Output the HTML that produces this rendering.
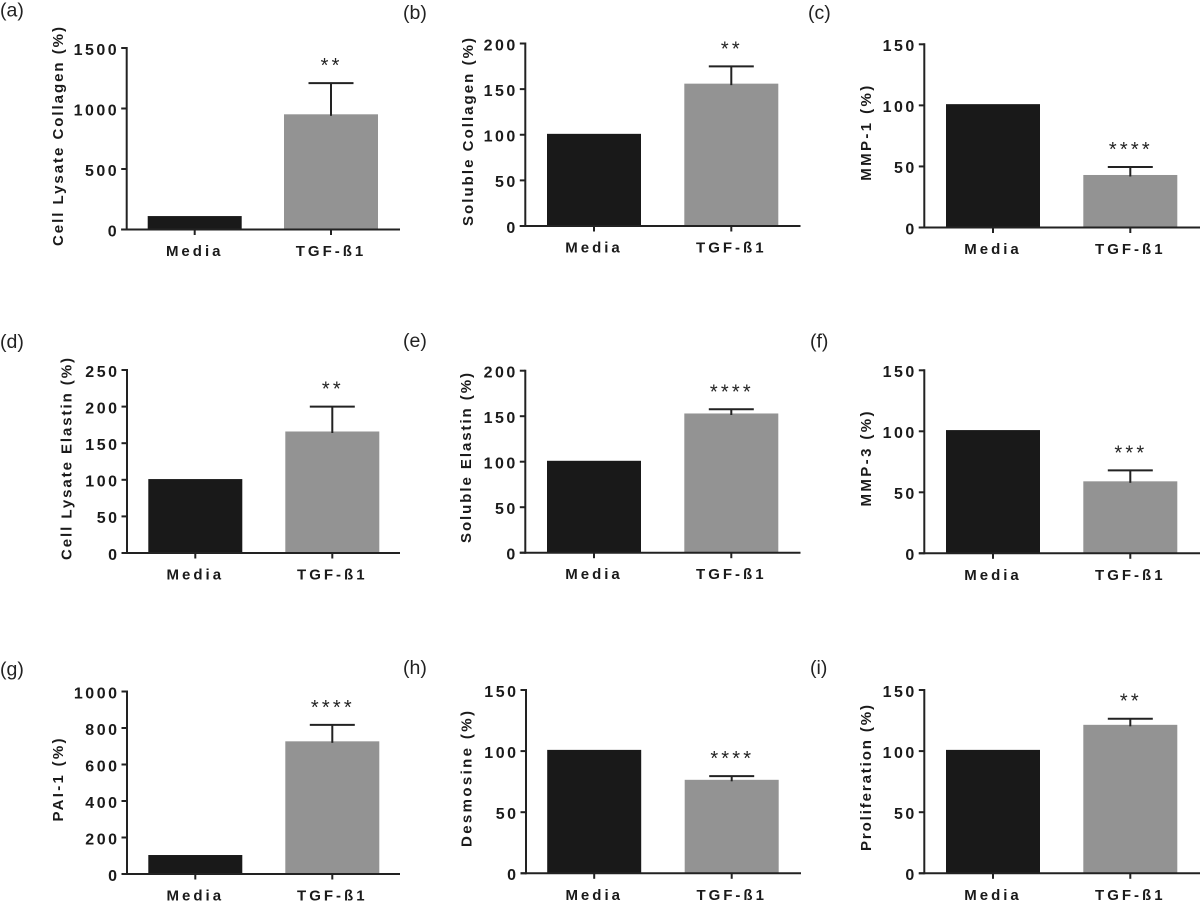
<!DOCTYPE html>
<html lang="en">
<head>
<meta charset="utf-8">
<title>TGF-ß1 bar chart panels</title>
<style>
html,body{margin:0;padding:0;background:#fff;}
#figure{display:block;width:1200px;height:901px;filter:blur(0.3px);}
text{font-family:"Liberation Sans",sans-serif;fill:#1a1a1a;}
.tick{font-size:16px;font-weight:700;letter-spacing:2.5px;text-anchor:end;}
.cat{font-size:15px;font-weight:700;letter-spacing:3px;text-anchor:middle;}
.ytitle{font-size:15px;font-weight:700;text-anchor:middle;}
.stars{font-size:20px;letter-spacing:3.2px;text-anchor:middle;fill:#222;}
.letter{font-size:19.5px;fill:#222;}
</style>
</head>
<body>
<svg id="figure" xmlns="http://www.w3.org/2000/svg" width="1200" height="901" viewBox="0 0 1200 901"></svg>
<script>
// Data
const categories = ["Media", "TGF-ß1"];
const panelLetters = ["(a)", "(b)", "(c)", "(d)", "(e)", "(f)", "(g)", "(h)", "(i)"];
const yTitles = ["Cell Lysate Collagen (%)", "Soluble Collagen (%)", "MMP-1 (%)", "Cell Lysate Elastin (%)", "Soluble Elastin (%)", "MMP-3 (%)", "PAI-1 (%)", "Desmosine (%)", "Proliferation (%)"];
const mediaValues = [111, 101, 101, 101, 101, 101, 104, 101, 101];
const tgfValues = [952, 156, 43, 166, 153, 59, 727, 76.5, 121.5];
const errorTops = [1210, 175, 49.5, 200, 157.6, 68, 817, 79.5, 126.5];
const significance = ["**", "**", "****", "**", "****", "***", "****", "****", "**"];
const tickLabels = [
  [0, 500, 1000, 1500],
  [0, 50, 100, 150, 200],
  [0, 50, 100, 150],
  [0, 50, 100, 150, 200, 250],
  [0, 50, 100, 150, 200],
  [0, 50, 100, 150],
  [0, 200, 400, 600, 800, 1000],
  [0, 50, 100, 150],
  [0, 50, 100, 150]
];

// Layout of each panel (separate from the data)
const frames = [
  {x:126.7, top:48,    base:229.5, right:400,  c0:194.7, c1:331,    lx:0,   ly:16.5, tx:63,  ty:136.5, tl:219},
  {x:525.3, top:43.5,  base:226,   right:800.5,c0:594,   c1:731.3,  lx:403, ly:19,   tx:473, ty:132,   tl:188},
  {x:924.3, top:44.3,  base:227.5, right:1200, c0:993,   c1:1130.3, lx:808, ly:19,   tx:871, ty:133.3, tl:95},
  {x:127,   top:370,   base:553,   right:400,  c0:195.3, c1:332.3,  lx:0,   ly:348,  tx:71.5,ty:459,   tl:202},
  {x:525.3, top:370.7, base:552.7, right:800.5,c0:594,   c1:731.3,  lx:403, ly:347,  tx:471, ty:458,   tl:170},
  {x:924.3, top:370.3, base:553.3, right:1200, c0:993,   c1:1130.3, lx:810, ly:347.5,tx:871, ty:459,   tl:95},
  {x:127,   top:691.5, base:874,   right:400,  c0:195.3, c1:332.3,  lx:0,   ly:675.5,tx:63,  ty:780,   tl:83},
  {x:526,   top:690,   base:873.3, right:801,  c0:594.2, c1:731.7,  lx:403, ly:674,  tx:471.7,ty:779,  tl:136},
  {x:924.3, top:690,   base:873.3, right:1200, c0:993,   c1:1130.3, lx:810, ly:674,  tx:871, ty:778,   tl:146}
];
const INK = "#222";
const BAR_WIDTH = 94;
const STROKE = 2;
const svg = document.getElementById("figure");
const NS = "http://www.w3.org/2000/svg";

function el(tag, attrs, parent) {
  const node = document.createElementNS(NS, tag);
  for (const k in attrs) node.setAttribute(k, attrs[k]);
  parent.appendChild(node);
  return node;
}
function line(parent, x1, y1, x2, y2, w) {
  return el("line", {x1: x1, y1: y1, x2: x2, y2: y2, stroke: INK, "stroke-width": w}, parent);
}

panelLetters.forEach(function (letter, i) {
  const f = frames[i];
  const ticks = tickLabels[i];
  const yMax = ticks[ticks.length - 1];
  const yScale = function (v) { return f.base - (v / yMax) * (f.base - f.top); };
  const xMedia = f.c0;
  const xTgf = f.c1;

  const g = el("g", {}, svg);
  
  

  const lab = el("text", {x: f.lx, y: f.ly, "class": "letter"}, g);
  lab.textContent = letter;
  
  

  const title = el("text", {
    "class": "ytitle",
    transform: "translate(" + f.tx + " " + f.ty + ") rotate(-90)",
    textLength: f.tl,
    lengthAdjust: "spacing"
  }, g);
  title.textContent = yTitles[i];
  
  

  // bars
  const mediaBar = el("rect", {x: xMedia - BAR_WIDTH / 2, y: yScale(mediaValues[i]), width: BAR_WIDTH, height: f.base - yScale(mediaValues[i]), fill: "#191919"}, g);
  
  

  const tgfBar = el("rect", {x: xTgf - BAR_WIDTH / 2, y: yScale(tgfValues[i]), width: BAR_WIDTH, height: f.base - yScale(tgfValues[i]), fill: "#939393"}, g);
  
  

  // error bar
  const stem = line(g, xTgf, yScale(errorTops[i]), xTgf, yScale(tgfValues[i]) + 1.5, STROKE);
  
  

  const cap = line(g, xTgf - 22.5, yScale(errorTops[i]), xTgf + 22.5, yScale(errorTops[i]), STROKE);
  
  

  const star = el("text", {x: xTgf + 0.6, y: yScale(errorTops[i]) - 11, "class": "stars"}, g);
  star.textContent = significance[i];
  
  

  // axes
  const yAxis = line(g, f.x, f.top - 1, f.x, f.base + 1, STROKE);
  
  

  const xAxis = line(g, f.x - 5.5, f.base, f.right, f.base, STROKE);
  
  

  ticks.forEach(function (t) {
    const yTick = line(g, f.x - 5.5, yScale(t), f.x, yScale(t), STROKE);
    
    

    const tl = el("text", {x: f.x - 7.5, y: yScale(t) + 6.8, "class": "tick"}, g);
    tl.textContent = t;
    
    
  });

  categories.forEach(function (c, k) {
    const cx = k === 0 ? xMedia : xTgf;
    const xTick = line(g, cx, f.base, cx, f.base + 5.5, STROKE);
    
    

    const cl = el("text", {x: cx, y: f.base + 26.5, "class": "cat"}, g);
    cl.textContent = c;
    
    
  });
});
</script>
</body>
</html>
